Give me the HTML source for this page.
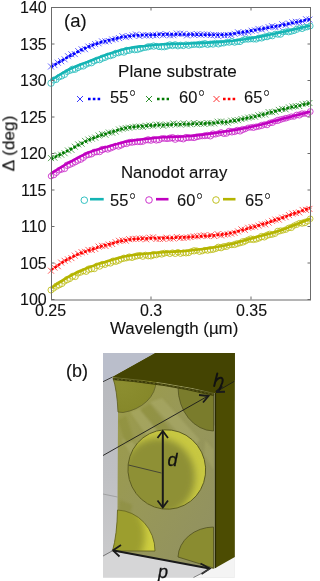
<!DOCTYPE html>
<html><head><meta charset="utf-8"><style>
html,body{margin:0;padding:0;background:#fff;}
body{width:315px;height:581px;position:relative;overflow:hidden;font-family:"Liberation Sans",sans-serif;color:#111;}
.t{position:absolute;white-space:pre;font-size:16.5px;line-height:19px;will-change:transform;-webkit-text-stroke:0.1px #111;}
.yl{position:absolute;right:268px;font-size:16px;line-height:19px;white-space:pre;will-change:transform;-webkit-text-stroke:0.1px #111;}
svg{position:absolute;left:0;top:0;}
.deg{font-size:16.5px;} .deg span{display:inline-block;width:3.5px;height:3.5px;border:1px solid #222;border-radius:50%;margin-left:1.2px;vertical-align:top;margin-top:2.2px;}
</style></head><body>
<svg width="315" height="581" viewBox="0 0 315 581">
<path d="M48.0,63.5L54.0,69.5M48.0,69.5L54.0,63.5M51.4,62.1L57.4,68.1M51.4,68.1L57.4,62.1M54.8,59.7L60.8,65.7M54.8,65.7L60.8,59.7M58.2,58.2L64.2,64.2M58.2,64.2L64.2,58.2M61.6,56.3L67.6,62.3M61.6,62.3L67.6,56.3M65.0,53.2L71.0,59.2M65.0,59.2L71.0,53.2M68.4,51.3L74.4,57.3M68.4,57.3L74.4,51.3M71.8,51.1L77.8,57.1M71.8,57.1L77.8,51.1M75.2,48.1L81.2,54.1M75.2,54.1L81.2,48.1M78.6,46.3L84.6,52.3M78.6,52.3L84.6,46.3M82.0,46.2L88.0,52.2M82.0,52.2L88.0,46.2M85.4,43.6L91.4,49.6M85.4,49.6L91.4,43.6M88.8,43.0L94.8,49.0M88.8,49.0L94.8,43.0M92.2,41.1L98.2,47.1M92.2,47.1L98.2,41.1M95.6,40.3L101.6,46.3M95.6,46.3L101.6,40.3M99.0,38.4L105.0,44.4M99.0,44.4L105.0,38.4M102.4,38.4L108.4,44.4M102.4,44.4L108.4,38.4M105.8,38.0L111.8,44.0M105.8,44.0L111.8,38.0M109.2,36.5L115.2,42.5M109.2,42.5L115.2,36.5M112.6,36.1L118.6,42.1M112.6,42.1L118.6,36.1M116.0,35.1L122.0,41.1M116.0,41.1L122.0,35.1M119.4,33.2L125.4,39.2M119.4,39.2L125.4,33.2M122.8,34.1L128.8,40.1M122.8,40.1L128.8,34.1M126.2,33.3L132.2,39.3M126.2,39.3L132.2,33.3M129.6,32.4L135.6,38.4M129.6,38.4L135.6,32.4M133.0,31.5L139.0,37.5M133.0,37.5L139.0,31.5M136.4,33.0L142.4,39.0M136.4,39.0L142.4,33.0M139.8,32.0L145.8,38.0M139.8,38.0L145.8,32.0M143.2,32.4L149.2,38.4M143.2,38.4L149.2,32.4M146.6,32.6L152.6,38.6M146.6,38.6L152.6,32.6M150.0,32.1L156.0,38.1M150.0,38.1L156.0,32.1M153.4,32.4L159.4,38.4M153.4,38.4L159.4,32.4M156.8,31.3L162.8,37.3M156.8,37.3L162.8,31.3M160.2,32.0L166.2,38.0M160.2,38.0L166.2,32.0M163.6,31.3L169.6,37.3M163.6,37.3L169.6,31.3M167.0,32.3L173.0,38.3M167.0,38.3L173.0,32.3M170.4,32.2L176.4,38.2M170.4,38.2L176.4,32.2M173.8,30.6L179.8,36.6M173.8,36.6L179.8,30.6M177.2,30.7L183.2,36.7M177.2,36.7L183.2,30.7M180.6,30.9L186.6,36.9M180.6,36.9L186.6,30.9M184.0,32.4L190.0,38.4M184.0,38.4L190.0,32.4M187.4,31.4L193.4,37.4M187.4,37.4L193.4,31.4M190.8,31.8L196.8,37.8M190.8,37.8L196.8,31.8M194.2,31.2L200.2,37.2M194.2,37.2L200.2,31.2M197.6,31.7L203.6,37.7M197.6,37.7L203.6,31.7M201.0,31.5L207.0,37.5M201.0,37.5L207.0,31.5M204.4,31.5L210.4,37.5M204.4,37.5L210.4,31.5M207.8,32.0L213.8,38.0M207.8,38.0L213.8,32.0M211.2,32.0L217.2,38.0M211.2,38.0L217.2,32.0M214.6,32.6L220.6,38.6M214.6,38.6L220.6,32.6M218.0,32.1L224.0,38.1M218.0,38.1L224.0,32.1M221.4,32.4L227.4,38.4M221.4,38.4L227.4,32.4M224.8,32.0L230.8,38.0M224.8,38.0L230.8,32.0M228.2,31.9L234.2,37.9M228.2,37.9L234.2,31.9M231.6,30.8L237.6,36.8M231.6,36.8L237.6,30.8M235.0,29.3L241.0,35.3M235.0,35.3L241.0,29.3M238.4,30.1L244.4,36.1M238.4,36.1L244.4,30.1M241.8,29.7L247.8,35.7M241.8,35.7L247.8,29.7M245.2,29.0L251.2,35.0M245.2,35.0L251.2,29.0M248.6,27.7L254.6,33.7M248.6,33.7L254.6,27.7M252.0,27.4L258.0,33.4M252.0,33.4L258.0,27.4M255.4,25.9L261.4,31.9M255.4,31.9L261.4,25.9M258.8,26.5L264.8,32.5M258.8,32.5L264.8,26.5M262.2,25.4L268.2,31.4M262.2,31.4L268.2,25.4M265.6,24.2L271.6,30.2M265.6,30.2L271.6,24.2M269.0,23.2L275.0,29.2M269.0,29.2L275.0,23.2M272.4,24.1L278.4,30.1M272.4,30.1L278.4,24.1M275.8,23.7L281.8,29.7M275.8,29.7L281.8,23.7M279.2,21.2L285.2,27.2M279.2,27.2L285.2,21.2M282.6,22.0L288.6,28.0M282.6,28.0L288.6,22.0M286.0,20.5L292.0,26.5M286.0,26.5L292.0,20.5M289.4,19.3L295.4,25.3M289.4,25.3L295.4,19.3M292.8,18.8L298.8,24.8M292.8,24.8L298.8,18.8M296.2,19.1L302.2,25.1M296.2,25.1L302.2,19.1M299.6,18.5L305.6,24.5M299.6,24.5L305.6,18.5M303.0,16.2L309.0,22.2M303.0,22.2L309.0,16.2M306.4,16.6L312.4,22.6M306.4,22.6L312.4,16.6" stroke="#3a3aff" stroke-width="0.8" fill="none"/>
<path d="M51.0,67.0 L52.5,66.1 L54.4,65.0 L56.7,63.6 L59.2,62.1 L62.0,60.5 L64.7,58.9 L67.4,57.4 L70.0,56.0 L72.5,54.7 L74.9,53.3 L77.4,52.0 L79.9,50.7 L82.5,49.4 L85.0,48.2 L87.5,47.1 L90.0,46.0 L92.5,45.0 L95.0,44.2 L97.5,43.4 L100.0,42.6 L102.5,41.9 L105.0,41.3 L107.5,40.6 L110.0,40.0 L112.4,39.4 L114.8,38.8 L117.1,38.2 L119.4,37.7 L121.8,37.2 L124.3,36.8 L127.0,36.4 L130.0,36.0 L133.3,35.7 L136.8,35.4 L140.5,35.2 L144.4,35.0 L148.3,34.8 L152.3,34.7 L156.2,34.6 L160.0,34.5 L163.7,34.4 L167.4,34.4 L171.0,34.4 L174.7,34.4 L178.4,34.4 L182.1,34.5 L186.0,34.5 L190.0,34.5 L194.2,34.5 L198.5,34.6 L203.0,34.7 L207.5,34.8 L212.0,34.8 L216.5,34.8 L220.8,34.7 L225.0,34.5 L229.0,34.2 L233.0,33.7 L236.8,33.1 L240.6,32.5 L244.3,31.9 L248.0,31.2 L251.5,30.6 L255.0,30.0 L258.3,29.5 L261.5,28.9 L264.5,28.4 L267.4,27.9 L270.4,27.3 L273.4,26.8 L276.6,26.2 L280.0,25.5 L283.8,24.7 L288.1,23.9 L292.5,22.9 L297.1,22.0 L301.4,21.0 L305.3,20.2 L308.6,19.5 L311.0,19.0" stroke="#0000ff" stroke-width="2.6" stroke-dasharray="2.6 1.6" fill="none"/>
<path d="M48.0,155.1L54.0,161.1M48.0,161.1L54.0,155.1M51.4,154.7L57.4,160.7M51.4,160.7L57.4,154.7M54.8,152.3L60.8,158.3M54.8,158.3L60.8,152.3M58.2,151.7L64.2,157.7M58.2,157.7L64.2,151.7M61.6,150.2L67.6,156.2M61.6,156.2L67.6,150.2M65.0,147.5L71.0,153.5M65.0,153.5L71.0,147.5M68.4,146.8L74.4,152.8M68.4,152.8L74.4,146.8M71.8,143.7L77.8,149.7M71.8,149.7L77.8,143.7M75.2,141.4L81.2,147.4M75.2,147.4L81.2,141.4M78.6,140.7L84.6,146.7M78.6,146.7L84.6,140.7M82.0,137.9L88.0,143.9M82.0,143.9L88.0,137.9M85.4,136.6L91.4,142.6M85.4,142.6L91.4,136.6M88.8,135.6L94.8,141.6M88.8,141.6L94.8,135.6M92.2,134.6L98.2,140.6M92.2,140.6L98.2,134.6M95.6,132.5L101.6,138.5M95.6,138.5L101.6,132.5M99.0,131.1L105.0,137.1M99.0,137.1L105.0,131.1M102.4,131.7L108.4,137.7M102.4,137.7L108.4,131.7M105.8,129.5L111.8,135.5M105.8,135.5L111.8,129.5M109.2,129.7L115.2,135.7M109.2,135.7L115.2,129.7M112.6,128.5L118.6,134.5M112.6,134.5L118.6,128.5M116.0,126.5L122.0,132.5M116.0,132.5L122.0,126.5M119.4,125.7L125.4,131.7M119.4,131.7L125.4,125.7M122.8,125.1L128.8,131.1M122.8,131.1L128.8,125.1M126.2,124.7L132.2,130.7M126.2,130.7L132.2,124.7M129.6,124.1L135.6,130.1M129.6,130.1L135.6,124.1M133.0,123.7L139.0,129.7M133.0,129.7L139.0,123.7M136.4,123.5L142.4,129.5M136.4,129.5L142.4,123.5M139.8,123.9L145.8,129.9M139.8,129.9L145.8,123.9M143.2,122.8L149.2,128.8M143.2,128.8L149.2,122.8M146.6,122.4L152.6,128.4M146.6,128.4L152.6,122.4M150.0,122.8L156.0,128.8M150.0,128.8L156.0,122.8M153.4,121.7L159.4,127.7M153.4,127.7L159.4,121.7M156.8,121.6L162.8,127.6M156.8,127.6L162.8,121.6M160.2,122.8L166.2,128.8M160.2,128.8L166.2,122.8M163.6,121.8L169.6,127.8M163.6,127.8L169.6,121.8M167.0,121.7L173.0,127.7M167.0,127.7L173.0,121.7M170.4,120.5L176.4,126.5M170.4,126.5L176.4,120.5M173.8,121.3L179.8,127.3M173.8,127.3L179.8,121.3M177.2,121.5L183.2,127.5M177.2,127.5L183.2,121.5M180.6,120.3L186.6,126.3M180.6,126.3L186.6,120.3M184.0,121.4L190.0,127.4M184.0,127.4L190.0,121.4M187.4,121.2L193.4,127.2M187.4,127.2L193.4,121.2M190.8,120.0L196.8,126.0M190.8,126.0L196.8,120.0M194.2,121.0L200.2,127.0M194.2,127.0L200.2,121.0M197.6,120.5L203.6,126.5M197.6,126.5L203.6,120.5M201.0,120.8L207.0,126.8M201.0,126.8L207.0,120.8M204.4,120.0L210.4,126.0M204.4,126.0L210.4,120.0M207.8,120.5L213.8,126.5M207.8,126.5L213.8,120.5M211.2,120.4L217.2,126.4M211.2,126.4L217.2,120.4M214.6,118.7L220.6,124.7M214.6,124.7L220.6,118.7M218.0,118.5L224.0,124.5M218.0,124.5L224.0,118.5M221.4,119.4L227.4,125.4M221.4,125.4L227.4,119.4M224.8,119.6L230.8,125.6M224.8,125.6L230.8,119.6M228.2,117.7L234.2,123.7M228.2,123.7L234.2,117.7M231.6,117.5L237.6,123.5M231.6,123.5L237.6,117.5M235.0,117.2L241.0,123.2M235.0,123.2L241.0,117.2M238.4,116.0L244.4,122.0M238.4,122.0L244.4,116.0M241.8,115.4L247.8,121.4M241.8,121.4L247.8,115.4M245.2,114.6L251.2,120.6M245.2,120.6L251.2,114.6M248.6,114.0L254.6,120.0M248.6,120.0L254.6,114.0M252.0,113.7L258.0,119.7M252.0,119.7L258.0,113.7M255.4,112.3L261.4,118.3M255.4,118.3L261.4,112.3M258.8,111.6L264.8,117.6M258.8,117.6L264.8,111.6M262.2,111.5L268.2,117.5M262.2,117.5L268.2,111.5M265.6,109.1L271.6,115.1M265.6,115.1L271.6,109.1M269.0,109.2L275.0,115.2M269.0,115.2L275.0,109.2M272.4,108.6L278.4,114.6M272.4,114.6L278.4,108.6M275.8,106.9L281.8,112.9M275.8,112.9L281.8,106.9M279.2,105.9L285.2,111.9M279.2,111.9L285.2,105.9M282.6,106.3L288.6,112.3M282.6,112.3L288.6,106.3M286.0,104.4L292.0,110.4M286.0,110.4L292.0,104.4M289.4,103.5L295.4,109.5M289.4,109.5L295.4,103.5M292.8,103.2L298.8,109.2M292.8,109.2L298.8,103.2M296.2,103.0L302.2,109.0M296.2,109.0L302.2,103.0M299.6,101.1L305.6,107.1M299.6,107.1L305.6,101.1M303.0,100.8L309.0,106.8M303.0,106.8L309.0,100.8M306.4,100.0L312.4,106.0M306.4,106.0L312.4,100.0" stroke="#2e8f2e" stroke-width="0.8" fill="none"/>
<path d="M51.0,159.0 L52.5,158.3 L54.4,157.3 L56.7,156.2 L59.2,154.9 L62.0,153.5 L64.7,152.1 L67.4,150.8 L70.0,149.5 L72.5,148.3 L74.9,147.0 L77.4,145.7 L79.9,144.3 L82.5,143.1 L85.0,141.8 L87.5,140.6 L90.0,139.5 L92.5,138.5 L95.0,137.5 L97.5,136.6 L100.0,135.7 L102.5,134.9 L105.0,134.1 L107.5,133.3 L110.0,132.5 L112.4,131.7 L114.8,131.0 L117.1,130.3 L119.4,129.6 L121.8,129.0 L124.3,128.4 L127.0,127.8 L130.0,127.3 L133.3,126.9 L136.8,126.5 L140.5,126.2 L144.4,125.9 L148.3,125.6 L152.3,125.4 L156.2,125.2 L160.0,125.0 L163.7,124.8 L167.4,124.7 L171.0,124.6 L174.7,124.5 L178.4,124.4 L182.1,124.3 L186.0,124.2 L190.0,124.0 L194.2,123.8 L198.5,123.7 L203.0,123.5 L207.5,123.3 L212.0,123.1 L216.5,122.8 L220.8,122.4 L225.0,122.0 L229.0,121.5 L233.0,120.9 L236.8,120.2 L240.6,119.5 L244.3,118.8 L248.0,118.0 L251.5,117.3 L255.0,116.5 L258.3,115.7 L261.5,115.0 L264.5,114.2 L267.4,113.3 L270.4,112.5 L273.4,111.7 L276.6,110.8 L280.0,110.0 L283.8,109.1 L288.1,108.1 L292.5,107.1 L297.1,106.1 L301.4,105.1 L305.3,104.3 L308.6,103.5 L311.0,103.0" stroke="#007a00" stroke-width="2.6" stroke-dasharray="2.6 1.6" fill="none"/>
<path d="M48.0,267.7L54.0,273.7M48.0,273.7L54.0,267.7M51.4,264.6L57.4,270.6M51.4,270.6L57.4,264.6M54.8,263.2L60.8,269.2M54.8,269.2L60.8,263.2M58.2,259.6L64.2,265.6M58.2,265.6L64.2,259.6M61.6,257.8L67.6,263.8M61.6,263.8L67.6,257.8M65.0,256.4L71.0,262.4M65.0,262.4L71.0,256.4M68.4,255.1L74.4,261.1M68.4,261.1L74.4,255.1M71.8,252.6L77.8,258.6M71.8,258.6L77.8,252.6M75.2,250.8L81.2,256.8M75.2,256.8L81.2,250.8M78.6,249.2L84.6,255.2M78.6,255.2L84.6,249.2M82.0,248.8L88.0,254.8M82.0,254.8L88.0,248.8M85.4,246.9L91.4,252.9M85.4,252.9L91.4,246.9M88.8,247.0L94.8,253.0M88.8,253.0L94.8,247.0M92.2,245.9L98.2,251.9M92.2,251.9L98.2,245.9M95.6,243.6L101.6,249.6M95.6,249.6L101.6,243.6M99.0,242.8L105.0,248.8M99.0,248.8L105.0,242.8M102.4,242.9L108.4,248.9M102.4,248.9L108.4,242.9M105.8,241.6L111.8,247.6M105.8,247.6L111.8,241.6M109.2,241.0L115.2,247.0M109.2,247.0L115.2,241.0M112.6,239.2L118.6,245.2M112.6,245.2L118.6,239.2M116.0,237.8L122.0,243.8M116.0,243.8L122.0,237.8M119.4,237.4L125.4,243.4M119.4,243.4L125.4,237.4M122.8,237.7L128.8,243.7M122.8,243.7L128.8,237.7M126.2,236.2L132.2,242.2M126.2,242.2L132.2,236.2M129.6,235.9L135.6,241.9M129.6,241.9L135.6,235.9M133.0,235.8L139.0,241.8M133.0,241.8L139.0,235.8M136.4,235.6L142.4,241.6M136.4,241.6L142.4,235.6M139.8,235.4L145.8,241.4M139.8,241.4L145.8,235.4M143.2,236.3L149.2,242.3M143.2,242.3L149.2,236.3M146.6,234.7L152.6,240.7M146.6,240.7L152.6,234.7M150.0,234.3L156.0,240.3M150.0,240.3L156.0,234.3M153.4,236.0L159.4,242.0M153.4,242.0L159.4,236.0M156.8,235.8L162.8,241.8M156.8,241.8L162.8,235.8M160.2,235.9L166.2,241.9M160.2,241.9L166.2,235.9M163.6,234.7L169.6,240.7M163.6,240.7L169.6,234.7M167.0,235.6L173.0,241.6M167.0,241.6L173.0,235.6M170.4,235.5L176.4,241.5M170.4,241.5L176.4,235.5M173.8,234.0L179.8,240.0M173.8,240.0L179.8,234.0M177.2,234.9L183.2,240.9M177.2,240.9L183.2,234.9M180.6,235.0L186.6,241.0M180.6,241.0L186.6,235.0M184.0,234.5L190.0,240.5M184.0,240.5L190.0,234.5M187.4,234.0L193.4,240.0M187.4,240.0L193.4,234.0M190.8,233.4L196.8,239.4M190.8,239.4L196.8,233.4M194.2,233.3L200.2,239.3M194.2,239.3L200.2,233.3M197.6,232.8L203.6,238.8M197.6,238.8L203.6,232.8M201.0,232.3L207.0,238.3M201.0,238.3L207.0,232.3M204.4,233.1L210.4,239.1M204.4,239.1L210.4,233.1M207.8,232.2L213.8,238.2M207.8,238.2L213.8,232.2M211.2,233.0L217.2,239.0M211.2,239.0L217.2,233.0M214.6,231.1L220.6,237.1M214.6,237.1L220.6,231.1M218.0,232.4L224.0,238.4M218.0,238.4L224.0,232.4M221.4,231.5L227.4,237.5M221.4,237.5L227.4,231.5M224.8,231.3L230.8,237.3M224.8,237.3L230.8,231.3M228.2,230.6L234.2,236.6M228.2,236.6L234.2,230.6M231.6,229.9L237.6,235.9M231.6,235.9L237.6,229.9M235.0,228.4L241.0,234.4M235.0,234.4L241.0,228.4M238.4,226.4L244.4,232.4M238.4,232.4L244.4,226.4M241.8,226.9L247.8,232.9M241.8,232.9L247.8,226.9M245.2,224.8L251.2,230.8M245.2,230.8L251.2,224.8M248.6,224.1L254.6,230.1M248.6,230.1L254.6,224.1M252.0,223.8L258.0,229.8M252.0,229.8L258.0,223.8M255.4,222.6L261.4,228.6M255.4,228.6L261.4,222.6M258.8,221.3L264.8,227.3M258.8,227.3L264.8,221.3M262.2,221.3L268.2,227.3M262.2,227.3L268.2,221.3M265.6,219.6L271.6,225.6M265.6,225.6L271.6,219.6M269.0,217.9L275.0,223.9M269.0,223.9L275.0,217.9M272.4,216.6L278.4,222.6M272.4,222.6L278.4,216.6M275.8,216.6L281.8,222.6M275.8,222.6L281.8,216.6M279.2,214.7L285.2,220.7M279.2,220.7L285.2,214.7M282.6,214.1L288.6,220.1M282.6,220.1L288.6,214.1M286.0,212.1L292.0,218.1M286.0,218.1L292.0,212.1M289.4,210.6L295.4,216.6M289.4,216.6L295.4,210.6M292.8,210.0L298.8,216.0M292.8,216.0L298.8,210.0M296.2,209.4L302.2,215.4M296.2,215.4L302.2,209.4M299.6,206.9L305.6,212.9M299.6,212.9L305.6,206.9M303.0,206.9L309.0,212.9M303.0,212.9L309.0,206.9M306.4,205.9L312.4,211.9M306.4,211.9L312.4,205.9" stroke="#ff3030" stroke-width="0.8" fill="none"/>
<path d="M51.0,270.0 L52.5,269.0 L54.4,267.8 L56.7,266.2 L59.2,264.5 L62.0,262.7 L64.7,261.0 L67.4,259.4 L70.0,258.0 L72.5,256.8 L74.9,255.7 L77.4,254.6 L79.9,253.6 L82.5,252.7 L85.0,251.8 L87.5,250.9 L90.0,250.0 L92.5,249.1 L95.0,248.3 L97.5,247.5 L100.0,246.8 L102.5,246.1 L105.0,245.3 L107.5,244.7 L110.0,244.0 L112.4,243.3 L114.8,242.7 L117.1,242.1 L119.4,241.5 L121.8,240.9 L124.3,240.4 L127.0,239.9 L130.0,239.5 L133.3,239.2 L136.8,238.9 L140.5,238.7 L144.4,238.5 L148.3,238.4 L152.3,238.3 L156.2,238.1 L160.0,238.0 L163.7,237.9 L167.4,237.8 L171.0,237.7 L174.7,237.6 L178.4,237.5 L182.1,237.4 L186.0,237.2 L190.0,237.0 L194.2,236.8 L198.5,236.5 L203.0,236.2 L207.5,235.9 L212.0,235.5 L216.5,235.1 L220.8,234.6 L225.0,234.0 L229.0,233.3 L233.0,232.5 L236.8,231.5 L240.6,230.6 L244.3,229.5 L248.0,228.5 L251.5,227.5 L255.0,226.5 L258.3,225.5 L261.5,224.6 L264.5,223.7 L267.4,222.7 L270.4,221.7 L273.4,220.7 L276.6,219.6 L280.0,218.5 L283.8,217.2 L288.1,215.7 L292.5,214.1 L297.1,212.5 L301.4,211.0 L305.3,209.5 L308.6,208.4 L311.0,207.5" stroke="#ff0000" stroke-width="2.6" stroke-dasharray="2.6 1.6" fill="none"/>
<g stroke="#30c0c0" stroke-width="0.9" fill="none"><circle cx="51.0" cy="83.2" r="3.18"/><circle cx="53.7" cy="80.1" r="3.04"/><circle cx="56.4" cy="79.9" r="2.63"/><circle cx="59.1" cy="77.2" r="2.79"/><circle cx="61.8" cy="76.1" r="2.90"/><circle cx="64.5" cy="74.4" r="3.14"/><circle cx="67.2" cy="72.0" r="2.64"/><circle cx="69.9" cy="70.8" r="2.69"/><circle cx="72.6" cy="69.4" r="3.28"/><circle cx="75.3" cy="69.7" r="2.66"/><circle cx="78.0" cy="67.9" r="2.82"/><circle cx="80.7" cy="66.5" r="2.85"/><circle cx="83.4" cy="66.1" r="3.01"/><circle cx="86.1" cy="64.6" r="2.73"/><circle cx="88.8" cy="63.5" r="2.69"/><circle cx="91.5" cy="62.8" r="3.10"/><circle cx="94.2" cy="61.4" r="2.66"/><circle cx="96.9" cy="60.0" r="2.86"/><circle cx="99.6" cy="59.7" r="3.15"/><circle cx="102.3" cy="58.2" r="3.16"/><circle cx="105.0" cy="57.6" r="2.90"/><circle cx="107.7" cy="56.2" r="2.95"/><circle cx="110.4" cy="55.9" r="2.89"/><circle cx="113.1" cy="55.0" r="2.92"/><circle cx="115.8" cy="53.2" r="2.98"/><circle cx="118.5" cy="53.2" r="2.65"/><circle cx="121.2" cy="51.9" r="2.90"/><circle cx="123.9" cy="52.0" r="3.26"/><circle cx="126.6" cy="50.5" r="3.23"/><circle cx="129.3" cy="50.7" r="2.78"/><circle cx="132.0" cy="49.6" r="2.69"/><circle cx="134.7" cy="49.8" r="3.06"/><circle cx="137.4" cy="49.5" r="3.15"/><circle cx="140.1" cy="48.7" r="3.11"/><circle cx="142.8" cy="48.2" r="2.67"/><circle cx="145.5" cy="47.9" r="2.60"/><circle cx="148.2" cy="46.8" r="3.14"/><circle cx="150.9" cy="46.3" r="2.66"/><circle cx="153.6" cy="46.1" r="3.22"/><circle cx="156.3" cy="46.0" r="2.62"/><circle cx="159.0" cy="47.0" r="2.68"/><circle cx="161.7" cy="46.8" r="3.07"/><circle cx="164.4" cy="46.6" r="3.27"/><circle cx="167.1" cy="46.0" r="3.16"/><circle cx="169.8" cy="44.9" r="3.14"/><circle cx="172.5" cy="45.6" r="3.10"/><circle cx="175.2" cy="44.8" r="3.12"/><circle cx="177.9" cy="46.3" r="2.64"/><circle cx="180.6" cy="45.1" r="2.99"/><circle cx="183.3" cy="45.9" r="2.77"/><circle cx="186.0" cy="44.6" r="2.77"/><circle cx="188.7" cy="45.3" r="3.13"/><circle cx="191.4" cy="44.8" r="2.86"/><circle cx="194.1" cy="44.6" r="2.85"/><circle cx="196.8" cy="44.5" r="2.66"/><circle cx="199.5" cy="44.5" r="3.28"/><circle cx="202.2" cy="44.2" r="3.12"/><circle cx="204.9" cy="43.6" r="3.08"/><circle cx="207.6" cy="44.5" r="3.07"/><circle cx="210.3" cy="43.9" r="2.94"/><circle cx="213.0" cy="44.0" r="3.23"/><circle cx="215.7" cy="42.9" r="2.67"/><circle cx="218.4" cy="43.8" r="3.24"/><circle cx="221.1" cy="43.2" r="2.91"/><circle cx="223.8" cy="43.3" r="2.73"/><circle cx="226.5" cy="42.2" r="2.74"/><circle cx="229.2" cy="42.5" r="2.82"/><circle cx="231.9" cy="41.5" r="3.08"/><circle cx="234.6" cy="42.5" r="2.81"/><circle cx="237.3" cy="41.7" r="2.89"/><circle cx="240.0" cy="41.6" r="3.01"/><circle cx="242.7" cy="40.1" r="2.75"/><circle cx="245.4" cy="39.2" r="2.94"/><circle cx="248.1" cy="39.5" r="2.72"/><circle cx="250.8" cy="39.0" r="2.83"/><circle cx="253.5" cy="39.3" r="2.70"/><circle cx="256.2" cy="39.2" r="2.94"/><circle cx="258.9" cy="38.0" r="2.93"/><circle cx="261.6" cy="37.9" r="3.18"/><circle cx="264.3" cy="36.9" r="2.94"/><circle cx="267.0" cy="36.6" r="3.20"/><circle cx="269.7" cy="35.5" r="3.11"/><circle cx="272.4" cy="35.9" r="2.93"/><circle cx="275.1" cy="33.9" r="2.76"/><circle cx="277.8" cy="34.2" r="3.07"/><circle cx="280.5" cy="34.1" r="3.20"/><circle cx="283.2" cy="32.2" r="2.73"/><circle cx="285.9" cy="31.6" r="2.73"/><circle cx="288.6" cy="31.7" r="3.20"/><circle cx="291.3" cy="31.5" r="2.78"/><circle cx="294.0" cy="30.8" r="2.82"/><circle cx="296.7" cy="29.3" r="3.11"/><circle cx="299.4" cy="28.1" r="2.66"/><circle cx="302.1" cy="28.8" r="2.80"/><circle cx="304.8" cy="27.3" r="3.01"/><circle cx="307.5" cy="27.2" r="2.60"/><circle cx="310.2" cy="26.0" r="2.91"/></g>
<path d="M51.0,80.0 L52.5,79.1 L54.4,78.0 L56.7,76.5 L59.2,75.0 L62.0,73.4 L64.7,71.8 L67.4,70.3 L70.0,69.0 L72.5,67.9 L74.9,66.8 L77.4,65.8 L79.9,64.8 L82.5,63.8 L85.0,62.9 L87.5,62.0 L90.0,61.0 L92.5,60.0 L95.0,59.0 L97.5,58.1 L100.0,57.1 L102.5,56.1 L105.0,55.2 L107.5,54.3 L110.0,53.5 L112.4,52.7 L114.8,51.9 L117.1,51.2 L119.4,50.5 L121.8,49.8 L124.3,49.2 L127.0,48.6 L130.0,48.0 L133.3,47.4 L136.8,46.9 L140.5,46.4 L144.4,46.0 L148.3,45.5 L152.3,45.2 L156.2,44.8 L160.0,44.5 L163.7,44.3 L167.4,44.1 L171.0,44.0 L174.7,43.9 L178.4,43.8 L182.1,43.8 L186.0,43.7 L190.0,43.5 L194.2,43.3 L198.5,43.1 L203.0,42.9 L207.5,42.7 L212.0,42.4 L216.5,42.2 L220.8,41.9 L225.0,41.5 L229.0,41.1 L233.0,40.7 L236.8,40.2 L240.6,39.7 L244.3,39.2 L248.0,38.6 L251.5,38.1 L255.0,37.5 L258.3,36.9 L261.5,36.4 L264.5,35.8 L267.4,35.2 L270.4,34.6 L273.4,33.9 L276.6,33.2 L280.0,32.5 L283.8,31.7 L288.1,30.7 L292.5,29.7 L297.1,28.7 L301.4,27.7 L305.3,26.8 L308.6,26.1 L311.0,25.5" stroke="#14b4b4" stroke-width="2.6" fill="none"/>
<g stroke="#cc33cc" stroke-width="0.9" fill="none"><circle cx="51.0" cy="176.1" r="2.75"/><circle cx="53.7" cy="174.6" r="3.27"/><circle cx="56.4" cy="172.5" r="2.98"/><circle cx="59.1" cy="170.3" r="2.79"/><circle cx="61.8" cy="169.6" r="2.68"/><circle cx="64.5" cy="168.4" r="3.24"/><circle cx="67.2" cy="165.3" r="3.26"/><circle cx="69.9" cy="164.3" r="3.14"/><circle cx="72.6" cy="163.5" r="2.81"/><circle cx="75.3" cy="161.8" r="3.06"/><circle cx="78.0" cy="160.6" r="2.79"/><circle cx="80.7" cy="159.1" r="3.27"/><circle cx="83.4" cy="157.6" r="2.98"/><circle cx="86.1" cy="155.3" r="2.95"/><circle cx="88.8" cy="154.5" r="3.10"/><circle cx="91.5" cy="154.0" r="3.00"/><circle cx="94.2" cy="152.2" r="3.05"/><circle cx="96.9" cy="152.1" r="2.73"/><circle cx="99.6" cy="151.7" r="3.06"/><circle cx="102.3" cy="149.6" r="3.25"/><circle cx="105.0" cy="148.9" r="2.83"/><circle cx="107.7" cy="149.2" r="3.02"/><circle cx="110.4" cy="148.1" r="3.05"/><circle cx="113.1" cy="147.2" r="2.82"/><circle cx="115.8" cy="145.9" r="2.65"/><circle cx="118.5" cy="146.1" r="3.13"/><circle cx="121.2" cy="145.0" r="3.12"/><circle cx="123.9" cy="144.0" r="2.79"/><circle cx="126.6" cy="143.4" r="3.21"/><circle cx="129.3" cy="142.3" r="2.95"/><circle cx="132.0" cy="142.2" r="3.14"/><circle cx="134.7" cy="142.0" r="2.83"/><circle cx="137.4" cy="141.7" r="2.98"/><circle cx="140.1" cy="141.9" r="2.85"/><circle cx="142.8" cy="141.7" r="2.68"/><circle cx="145.5" cy="140.4" r="2.67"/><circle cx="148.2" cy="139.8" r="3.15"/><circle cx="150.9" cy="140.6" r="2.73"/><circle cx="153.6" cy="139.3" r="2.89"/><circle cx="156.3" cy="140.0" r="3.17"/><circle cx="159.0" cy="139.8" r="3.01"/><circle cx="161.7" cy="138.5" r="2.88"/><circle cx="164.4" cy="138.4" r="2.97"/><circle cx="167.1" cy="138.9" r="2.74"/><circle cx="169.8" cy="138.2" r="3.15"/><circle cx="172.5" cy="137.7" r="3.16"/><circle cx="175.2" cy="139.1" r="3.26"/><circle cx="177.9" cy="138.1" r="2.99"/><circle cx="180.6" cy="138.4" r="3.04"/><circle cx="183.3" cy="138.9" r="3.08"/><circle cx="186.0" cy="137.5" r="3.20"/><circle cx="188.7" cy="137.6" r="3.02"/><circle cx="191.4" cy="137.8" r="2.60"/><circle cx="194.1" cy="137.6" r="3.06"/><circle cx="196.8" cy="136.8" r="2.97"/><circle cx="199.5" cy="136.4" r="2.74"/><circle cx="202.2" cy="136.2" r="2.63"/><circle cx="204.9" cy="135.7" r="3.05"/><circle cx="207.6" cy="135.3" r="3.00"/><circle cx="210.3" cy="135.8" r="3.22"/><circle cx="213.0" cy="134.0" r="3.15"/><circle cx="215.7" cy="134.4" r="2.64"/><circle cx="218.4" cy="133.5" r="2.76"/><circle cx="221.1" cy="132.6" r="2.98"/><circle cx="223.8" cy="133.7" r="2.83"/><circle cx="226.5" cy="133.2" r="3.09"/><circle cx="229.2" cy="131.4" r="3.20"/><circle cx="231.9" cy="131.8" r="3.25"/><circle cx="234.6" cy="131.5" r="3.12"/><circle cx="237.3" cy="130.4" r="3.16"/><circle cx="240.0" cy="130.9" r="3.20"/><circle cx="242.7" cy="129.5" r="3.13"/><circle cx="245.4" cy="129.0" r="2.68"/><circle cx="248.1" cy="127.7" r="2.65"/><circle cx="250.8" cy="127.4" r="2.71"/><circle cx="253.5" cy="127.4" r="3.09"/><circle cx="256.2" cy="126.8" r="2.90"/><circle cx="258.9" cy="126.4" r="2.81"/><circle cx="261.6" cy="125.4" r="3.13"/><circle cx="264.3" cy="124.5" r="2.73"/><circle cx="267.0" cy="124.7" r="3.10"/><circle cx="269.7" cy="123.0" r="2.86"/><circle cx="272.4" cy="122.5" r="3.02"/><circle cx="275.1" cy="121.2" r="2.60"/><circle cx="277.8" cy="120.4" r="3.15"/><circle cx="280.5" cy="119.6" r="2.92"/><circle cx="283.2" cy="118.9" r="2.75"/><circle cx="285.9" cy="118.2" r="2.88"/><circle cx="288.6" cy="117.5" r="2.62"/><circle cx="291.3" cy="116.6" r="2.72"/><circle cx="294.0" cy="116.6" r="2.64"/><circle cx="296.7" cy="115.0" r="2.91"/><circle cx="299.4" cy="115.0" r="3.09"/><circle cx="302.1" cy="113.7" r="2.88"/><circle cx="304.8" cy="113.6" r="2.62"/><circle cx="307.5" cy="113.9" r="2.75"/><circle cx="310.2" cy="111.6" r="2.93"/></g>
<path d="M51.0,173.5 L52.5,172.6 L54.4,171.4 L56.7,170.0 L59.2,168.4 L62.0,166.7 L64.7,165.0 L67.4,163.4 L70.0,162.0 L72.5,160.7 L74.9,159.3 L77.4,158.0 L79.9,156.7 L82.5,155.4 L85.0,154.2 L87.5,153.0 L90.0,152.0 L92.5,151.1 L95.0,150.2 L97.5,149.4 L100.0,148.7 L102.5,148.0 L105.0,147.3 L107.5,146.7 L110.0,146.0 L112.4,145.3 L114.8,144.6 L117.1,144.0 L119.4,143.3 L121.8,142.7 L124.3,142.1 L127.0,141.5 L130.0,141.0 L133.3,140.5 L136.8,140.0 L140.5,139.5 L144.4,139.0 L148.3,138.6 L152.3,138.2 L156.2,137.8 L160.0,137.5 L163.7,137.2 L167.4,137.1 L171.0,136.9 L174.7,136.8 L178.4,136.7 L182.1,136.5 L186.0,136.3 L190.0,136.0 L194.2,135.6 L198.5,135.1 L203.0,134.6 L207.5,134.0 L212.0,133.4 L216.5,132.8 L220.8,132.1 L225.0,131.5 L229.0,130.9 L233.0,130.2 L236.8,129.6 L240.6,128.9 L244.3,128.2 L248.0,127.5 L251.5,126.7 L255.0,126.0 L258.3,125.2 L261.5,124.5 L264.5,123.7 L267.4,122.9 L270.4,122.1 L273.4,121.3 L276.6,120.4 L280.0,119.5 L283.8,118.5 L288.1,117.4 L292.5,116.3 L297.1,115.1 L301.4,114.0 L305.3,113.0 L308.6,112.1 L311.0,111.5" stroke="#c000c0" stroke-width="2.6" fill="none"/>
<g stroke="#c0c020" stroke-width="0.9" fill="none"><circle cx="51.0" cy="290.0" r="3.04"/><circle cx="53.7" cy="288.5" r="2.69"/><circle cx="56.4" cy="286.2" r="3.11"/><circle cx="59.1" cy="284.8" r="3.15"/><circle cx="61.8" cy="283.4" r="3.25"/><circle cx="64.5" cy="281.4" r="2.77"/><circle cx="67.2" cy="279.6" r="3.17"/><circle cx="69.9" cy="278.7" r="2.84"/><circle cx="72.6" cy="276.3" r="3.08"/><circle cx="75.3" cy="276.6" r="3.01"/><circle cx="78.0" cy="273.5" r="2.62"/><circle cx="80.7" cy="272.5" r="2.72"/><circle cx="83.4" cy="271.2" r="2.64"/><circle cx="86.1" cy="271.2" r="3.23"/><circle cx="88.8" cy="269.2" r="3.28"/><circle cx="91.5" cy="268.7" r="3.16"/><circle cx="94.2" cy="268.5" r="3.26"/><circle cx="96.9" cy="265.9" r="2.81"/><circle cx="99.6" cy="266.0" r="3.26"/><circle cx="102.3" cy="264.2" r="2.81"/><circle cx="105.0" cy="264.8" r="2.68"/><circle cx="107.7" cy="263.1" r="2.83"/><circle cx="110.4" cy="262.9" r="3.25"/><circle cx="113.1" cy="261.1" r="3.12"/><circle cx="115.8" cy="261.3" r="3.18"/><circle cx="118.5" cy="260.2" r="3.25"/><circle cx="121.2" cy="259.1" r="2.89"/><circle cx="123.9" cy="258.2" r="3.15"/><circle cx="126.6" cy="258.1" r="2.79"/><circle cx="129.3" cy="257.0" r="3.10"/><circle cx="132.0" cy="257.4" r="3.10"/><circle cx="134.7" cy="256.6" r="2.94"/><circle cx="137.4" cy="255.8" r="3.10"/><circle cx="140.1" cy="255.3" r="2.93"/><circle cx="142.8" cy="256.3" r="3.07"/><circle cx="145.5" cy="254.9" r="2.77"/><circle cx="148.2" cy="255.9" r="3.05"/><circle cx="150.9" cy="255.8" r="3.21"/><circle cx="153.6" cy="254.7" r="3.23"/><circle cx="156.3" cy="255.0" r="2.83"/><circle cx="159.0" cy="254.1" r="2.65"/><circle cx="161.7" cy="253.9" r="3.27"/><circle cx="164.4" cy="253.2" r="3.00"/><circle cx="167.1" cy="253.0" r="2.66"/><circle cx="169.8" cy="253.8" r="2.77"/><circle cx="172.5" cy="252.6" r="2.71"/><circle cx="175.2" cy="253.5" r="3.01"/><circle cx="177.9" cy="252.2" r="2.76"/><circle cx="180.6" cy="253.7" r="2.75"/><circle cx="183.3" cy="252.8" r="2.89"/><circle cx="186.0" cy="253.0" r="3.02"/><circle cx="188.7" cy="252.7" r="2.97"/><circle cx="191.4" cy="251.3" r="2.72"/><circle cx="194.1" cy="250.8" r="3.18"/><circle cx="196.8" cy="250.5" r="2.62"/><circle cx="199.5" cy="251.7" r="2.74"/><circle cx="202.2" cy="251.2" r="2.66"/><circle cx="204.9" cy="250.1" r="2.76"/><circle cx="207.6" cy="250.3" r="3.03"/><circle cx="210.3" cy="249.6" r="3.13"/><circle cx="213.0" cy="249.6" r="2.84"/><circle cx="215.7" cy="248.7" r="2.91"/><circle cx="218.4" cy="247.3" r="3.18"/><circle cx="221.1" cy="247.7" r="3.17"/><circle cx="223.8" cy="246.5" r="2.98"/><circle cx="226.5" cy="246.4" r="3.11"/><circle cx="229.2" cy="245.1" r="2.84"/><circle cx="231.9" cy="245.1" r="2.65"/><circle cx="234.6" cy="244.5" r="3.11"/><circle cx="237.3" cy="243.6" r="3.05"/><circle cx="240.0" cy="243.1" r="2.75"/><circle cx="242.7" cy="241.9" r="3.30"/><circle cx="245.4" cy="241.1" r="2.90"/><circle cx="248.1" cy="239.8" r="2.75"/><circle cx="250.8" cy="239.1" r="3.25"/><circle cx="253.5" cy="239.4" r="3.21"/><circle cx="256.2" cy="239.1" r="3.03"/><circle cx="258.9" cy="238.2" r="2.98"/><circle cx="261.6" cy="236.6" r="3.26"/><circle cx="264.3" cy="236.8" r="3.26"/><circle cx="267.0" cy="235.3" r="3.14"/><circle cx="269.7" cy="234.4" r="3.30"/><circle cx="272.4" cy="234.5" r="2.80"/><circle cx="275.1" cy="233.7" r="2.73"/><circle cx="277.8" cy="231.3" r="3.11"/><circle cx="280.5" cy="230.8" r="2.96"/><circle cx="283.2" cy="230.4" r="2.63"/><circle cx="285.9" cy="229.6" r="2.79"/><circle cx="288.6" cy="228.0" r="2.84"/><circle cx="291.3" cy="227.5" r="3.12"/><circle cx="294.0" cy="225.6" r="2.67"/><circle cx="296.7" cy="224.6" r="2.89"/><circle cx="299.4" cy="223.1" r="2.71"/><circle cx="302.1" cy="223.2" r="3.09"/><circle cx="304.8" cy="222.5" r="3.29"/><circle cx="307.5" cy="221.2" r="2.86"/><circle cx="310.2" cy="218.8" r="2.82"/></g>
<path d="M51.0,288.0 L52.5,287.1 L54.4,285.8 L56.7,284.2 L59.2,282.6 L62.0,280.8 L64.7,279.1 L67.4,277.4 L70.0,276.0 L72.5,274.7 L74.9,273.5 L77.4,272.3 L79.9,271.2 L82.5,270.1 L85.0,269.0 L87.5,268.0 L90.0,267.0 L92.5,266.1 L95.0,265.2 L97.5,264.3 L100.0,263.5 L102.5,262.7 L105.0,262.0 L107.5,261.2 L110.0,260.5 L112.4,259.8 L114.8,259.1 L117.1,258.4 L119.4,257.8 L121.8,257.2 L124.3,256.6 L127.0,256.0 L130.0,255.5 L133.3,255.0 L136.8,254.6 L140.5,254.2 L144.4,253.8 L148.3,253.5 L152.3,253.1 L156.2,252.8 L160.0,252.5 L163.7,252.2 L167.4,252.0 L171.0,251.8 L174.7,251.6 L178.4,251.4 L182.1,251.2 L186.0,250.9 L190.0,250.5 L194.2,250.0 L198.5,249.5 L203.0,249.0 L207.5,248.4 L212.0,247.7 L216.5,247.0 L220.8,246.3 L225.0,245.5 L229.0,244.6 L233.0,243.7 L236.8,242.7 L240.6,241.6 L244.3,240.6 L248.0,239.5 L251.5,238.5 L255.0,237.5 L258.3,236.6 L261.5,235.8 L264.5,235.0 L267.4,234.2 L270.4,233.4 L273.4,232.6 L276.6,231.6 L280.0,230.5 L283.8,229.2 L288.1,227.6 L292.5,225.8 L297.1,224.1 L301.4,222.3 L305.3,220.8 L308.6,219.5 L311.0,218.5" stroke="#b4b400" stroke-width="2.6" fill="none"/>
<rect x="51.5" y="7.5" width="259" height="292.5" fill="none" stroke="#6b6b6b" stroke-width="1"/>
<path d="M51.5,299.5h3M310.5,299.5h-3M51.5,263.0h3M310.5,263.0h-3M51.5,226.5h3M310.5,226.5h-3M51.5,190.0h3M310.5,190.0h-3M51.5,153.5h3M310.5,153.5h-3M51.5,117.0h3M310.5,117.0h-3M51.5,80.5h3M310.5,80.5h-3M51.5,44.0h3M310.5,44.0h-3M51.5,7.5h3M310.5,7.5h-3M151.0,299.5v-3M151.0,7.5v3M251.0,299.5v-3M251.0,7.5v3" stroke="#6b6b6b" stroke-width="1" fill="none"/>
</svg>
<div class="yl" style="top:290.0px">100</div><div class="yl" style="top:253.5px">105</div><div class="yl" style="top:217.0px">110</div><div class="yl" style="top:180.5px">115</div><div class="yl" style="top:144.0px">120</div><div class="yl" style="top:107.5px">125</div><div class="yl" style="top:71.0px">130</div><div class="yl" style="top:34.5px">135</div><div class="yl" style="top:-2.0px">140</div>
<div class="t" style="left:35px;top:301px;font-size:16px">0.25</div>
<div class="t" style="left:140px;top:301px;font-size:16px">0.3</div>
<div class="t" style="left:236px;top:301px;font-size:16px">0.35</div>
<div class="t" style="left:110px;top:319px;font-size:16.9px">Wavelength (µm)</div>
<div class="t" style="left:63.8px;top:10.8px;font-size:18.5px">(a)</div>
<div class="t" style="left:118px;top:62px;font-size:17.1px">Plane substrate</div>
<div class="t" style="left:121px;top:163px;font-size:16.8px">Nanodot array</div>
<div class="t deg" style="left:110px;top:88px">55<span></span></div>
<div class="t deg" style="left:179px;top:88px">60<span></span></div>
<div class="t deg" style="left:244px;top:88px">65<span></span></div>
<div class="t deg" style="left:109.5px;top:191px">55<span></span></div>
<div class="t deg" style="left:176.5px;top:191px">60<span></span></div>
<div class="t deg" style="left:244.5px;top:191px">65<span></span></div>
<div class="t" style="left:-19px;top:134px;transform:rotate(-90deg);font-size:17.3px">Δ (deg)</div>
<div class="t" style="left:65.5px;top:362px;font-size:18px">(b)</div>
<svg width="315" height="581" viewBox="0 0 315 581">
<g stroke-width="1" fill="none">
<path d="M77,96 l6,6 M77,102 l6,-6" stroke="#3a3aff"/>
<path d="M146,96 l6,6 M146,102 l6,-6" stroke="#2e8f2e"/>
<path d="M213.5,96 l6,6 M213.5,102 l6,-6" stroke="#ff3030"/>
</g>
<path d="M88,99 h13" stroke="#0000ff" stroke-width="2.6" stroke-dasharray="2.6 2.2"/>
<path d="M157,99 h12" stroke="#007a00" stroke-width="2.6" stroke-dasharray="2.6 2.2"/>
<path d="M223,99 h13" stroke="#ff0000" stroke-width="2.6" stroke-dasharray="2.6 2.2"/>
<g fill="none" stroke-width="1">
<circle cx="84.3" cy="200.2" r="3.3" stroke="#30c0c0"/>
<circle cx="149" cy="200" r="3.3" stroke="#cc33cc"/>
<circle cx="216" cy="200" r="3.3" stroke="#c0c020"/>
</g>
<path d="M90,199.2 h13.7" stroke="#14b4b4" stroke-width="2.6"/>
<path d="M156,199.2 h12.5" stroke="#c000c0" stroke-width="2.6"/>
<path d="M223,199.2 h12.5" stroke="#b4b400" stroke-width="2.6"/>
</svg>
<svg width="315" height="581" viewBox="0 0 315 581" style="position:absolute;left:0;top:0">
<defs>
<filter id="bl3" x="-20%" y="-20%" width="140%" height="140%"><feGaussianBlur stdDeviation="2.5"/></filter>
<filter id="bl4" x="-20%" y="-20%" width="140%" height="140%"><feGaussianBlur stdDeviation="3.5"/></filter>
<filter id="bl1" x="-20%" y="-20%" width="140%" height="140%"><feGaussianBlur stdDeviation="1.2"/></filter>
<radialGradient id="gtl" cx="0.2" cy="0.2" r="1">
 <stop offset="0" stop-color="#8c8e30"/><stop offset="1" stop-color="#848628"/>
</radialGradient>
<linearGradient id="gfront" x1="0" y1="0" x2="1" y2="1">
 <stop offset="0" stop-color="#9c9c46"/><stop offset="0.45" stop-color="#989858"/><stop offset="1" stop-color="#909062"/>
</linearGradient>
<linearGradient id="gstrip" x1="0" y1="0" x2="0" y2="1">
 <stop offset="0" stop-color="#b6b8bd"/><stop offset="0.6" stop-color="#bfc0c3"/><stop offset="1" stop-color="#cacacc"/>
</linearGradient>
<clipPath id="cdome"><ellipse cx="166.8" cy="469.5" rx="38.8" ry="39.8" transform="rotate(-15 166.8 469.5)"/></clipPath>
<clipPath id="cbl"><path d="M117.5,510 A39,41 0 0 1 155,551 L112.5,551 Q117,535 117.5,510Z"/></clipPath>
<clipPath id="cfront"><path d="M112.5,377 Q165,381 214,393 L214,569 L112.5,551 Q117,535 117.5,510 L118,412 Q117,390 112.5,377Z"/></clipPath>
</defs>
<rect x="103" y="353" width="131.8" height="224.5" fill="#d5d5d6"/>
<polygon points="103,353 156,353 103,382" fill="#babecb"/>
<polygon points="103,382 156,353 235,353 235,400 112.5,552 103,557" fill="url(#gstrip)"/>
<polygon points="103,557 112.5,551 210,569 193.5,577.5 103,577.5" fill="#d6d6d7"/>
<polygon points="193.5,577.5 234.8,557 234.8,577.5" fill="#f4f4f4"/>
<path d="M112.5,377 Q165,381 214,393 L214,569 L112.5,551 Q117,535 117.5,510 L118,412 Q117,390 112.5,377Z" fill="url(#gfront)"/>
<g clip-path="url(#cfront)" filter="url(#bl1)" opacity="0.35">
<path d="M130,412 L140,408 L160,435 L150,440Z M150,402 L162,398 L200,440 L192,448Z M122,440 L128,436 L140,452 L132,456Z" fill="#b8b87a"/>
<path d="M140,410 L150,404 L172,432 L162,436Z M118,420 L126,416 L134,440 L126,444Z M120,500 L132,505 L128,525 L118,530Z" fill="#84862e"/>
<path d="M205,440 L214,450 L214,470 L204,455Z" fill="#b0b070"/>
</g>
<path d="M113,378 L156,381 A41,32 0 0 1 123,412.5 L118,412 Q117,390 113,378Z" fill="url(#gtl)" stroke="#5e5e26" stroke-width="0.8"/>
<path d="M178,387 A36,44 0 0 0 213.5,431 L213.5,393Z" fill="#7a7c2c" stroke="#50501e" stroke-width="0.8"/>
<path d="M117.5,510 A39,41 0 0 1 155,551 L112.5,551 Q117,535 117.5,510Z" fill="#cece40"/>
<g clip-path="url(#cbl)"><ellipse cx="105" cy="536" rx="40" ry="42" fill="#9c9e2e" filter="url(#bl4)"/></g>
<path d="M117.5,510 A39,41 0 0 1 155,551 L112.5,551 Q117,535 117.5,510Z" fill="none" stroke="#5e5e20" stroke-width="0.8"/>
<path d="M103,494 L117.5,497" stroke="#8a8a8a" stroke-width="0.6"/>
<path d="M178,557 A36,31 0 0 1 213.5,527 L213.5,568Z" fill="#8a8c30" stroke="#50501e" stroke-width="0.8"/>
<ellipse cx="166.8" cy="469.5" rx="38.8" ry="39.8" transform="rotate(-15 166.8 469.5)" fill="#c8c842"/>
<g clip-path="url(#cdome)"><ellipse cx="158" cy="477" rx="37" ry="39" fill="#8e9034" filter="url(#bl4)"/></g>
<ellipse cx="166.8" cy="469.5" rx="38.8" ry="39.8" transform="rotate(-15 166.8 469.5)" fill="none" stroke="#5a5a22" stroke-width="0.9"/>
<path d="M112.5,377 L155.5,353 L234.8,353 L234.8,557 L214.5,568.5 L214.5,393 Q165,381 112.5,377Z" fill="#4c4c02"/>
<path d="M112.5,377 L155.5,353 L234.8,353 L234.8,380 L214.5,393 Q165,381 112.5,377Z" fill="#444402"/>
<path d="M113,379 Q165,383 214,395" stroke="#3c3c08" stroke-width="2.2" fill="none"/>
<path d="M113,379 Q165,383 214,395" stroke="#6e6e2a" stroke-width="0.7" stroke-dasharray="2 2" fill="none"/>
<path d="M215.5,393 L215.5,568" stroke="#2a2a00" stroke-width="1.2"/>
<g stroke="#1a1a1a" fill="none">
<path d="M103,381.7 L112.5,377" stroke-width="0.8"/>
<path d="M103,455.5 L208,396" stroke-width="0.9"/>
<path d="M199,395 L208.5,396 L203,402.5" stroke-width="1.8"/>
<path d="M234.3,381.3 L216,392" stroke-width="0.9"/>
<path d="M216,392 L225,391.7 M216,392 L222.3,386.3" stroke-width="2"/>
<path d="M162.8,432 L162.8,507" stroke-width="2"/>
<path d="M157.5,438 L162.8,431 L168,438 M157.5,500.5 L162.8,507.5 L168,500.5" stroke-width="1.8"/>
<path d="M113.5,550.5 L209.5,568.5" stroke-width="2"/>
<path d="M121,545 L113,550.3 L119.5,556.5 M200.5,563.5 L209.8,568.5 L201.5,574" stroke-width="1.8"/>
<path d="M103,556 L113,550.5" stroke-width="0.7" stroke="#555"/>
<path d="M193.5,577.5 L210,569" stroke-width="0.7" stroke="#555"/>
<path d="M128.5,465 L161.4,473" stroke-width="0.8" stroke="#333"/>
</g>
<path d="M217.3,373.5 L214.2,386 M215.2,382 Q218,377.5 221,377.8 Q223.5,378.5 222.3,382.5 L219.5,389.5" stroke="#111" stroke-width="2" fill="none" stroke-linecap="round"/>
<text x="167.5" y="465.5" font-family="Liberation Sans" font-style="italic" font-size="18" fill="#111" stroke="#111" stroke-width="0.3">d</text>
<text x="158" y="578" font-family="Liberation Sans" font-style="italic" font-size="18" fill="#111" stroke="#111" stroke-width="0.3">p</text>
</svg>
</body></html>
